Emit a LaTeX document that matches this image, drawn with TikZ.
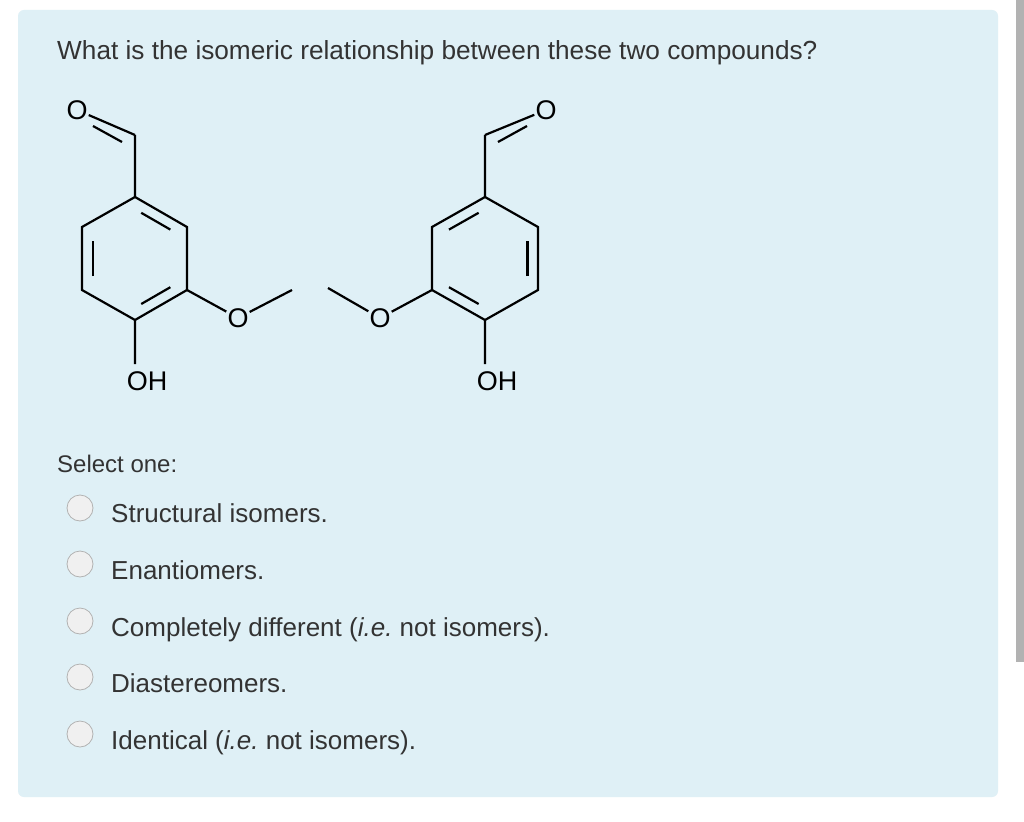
\documentclass[tikz,border=0pt]{standalone}
\usepackage{fontspec}
\setmainfont{Liberation Sans}
\usetikzlibrary{calc}
\definecolor{panel}{HTML}{DFF0F6}
\definecolor{txt}{HTML}{333333}
\begin{document}
\begin{tikzpicture}[x=1pt,y=-1pt,
  bond/.style={line width=2.2pt,black},
  atomlbl/.style={font=\fontsize{27}{29}\selectfont,inner sep=1pt},
  opt/.style={font=\fontsize{26}{28}\selectfont,text=txt,anchor=base west,inner sep=0pt},
  radio/.style={circle,minimum size=26pt,inner sep=0pt,draw=gray!60,line width=0.8pt,fill=gray!12}]
\useasboundingbox[fill=white] (0,0) rectangle (1024,821);
\fill[panel,rounded corners=6pt] (18,10) rectangle (998,797);
\fill[gray!60] (1016,0) rectangle (1024,662);
\node[font=\fontsize{26.2}{28}\selectfont,text=txt,anchor=base west,inner sep=0pt] (title) at (57,60) {What is the isomeric relationship between these two compounds?};
% left molecule
\coordinate (La) at (135,197);
\coordinate (Lb) at (187,227);
\coordinate (Lc) at (187,290);
\coordinate (Ld) at (135,320);
\coordinate (Le) at (82,290);
\coordinate (Lf) at (82,227);
\coordinate (Lm) at (135,258);
\coordinate (Lcc) at (135,135);
\coordinate (Loh) at (135,364);
\coordinate (Lme) at (292,290);
\node[atomlbl] (LOa) at (77,110) {O};
\node[atomlbl] (LOb) at (238,318) {O};
\node[atomlbl] (LOH) at (147,381) {OH};
\draw[bond] (La)--(Lb)--(Lc)--(Ld)--(Le)--(Lf)--cycle;
\draw[bond] ($($(La)!.15!(Lb)$)!.2!(Lm)$)--($($(La)!.85!(Lb)$)!.2!(Lm)$);
\draw[bond] ($($(Lc)!.15!(Ld)$)!.2!(Lm)$)--($($(Lc)!.85!(Ld)$)!.2!(Lm)$);
\draw[bond] ($($(Le)!.15!(Lf)$)!.2!(Lm)$)--($($(Le)!.85!(Lf)$)!.2!(Lm)$);
\draw[bond] (La)--(Lcc) (Ld)--(Loh) (Lc)--(LOb) (LOb)--(Lme);
\draw[bond] (Lcc)--(LOa);
\draw[bond] (93,126)--(122,142);
% right molecule
\coordinate (Ra) at (485,197);
\coordinate (Rb) at (432,227);
\coordinate (Rc) at (432,290);
\coordinate (Rd) at (485,320);
\coordinate (Re) at (538,290);
\coordinate (Rf) at (538,227);
\coordinate (Rm) at (485,258);
\coordinate (Rcc) at (485,135);
\coordinate (Roh) at (485,364);
\coordinate (Rme) at (328,288);
\node[atomlbl] (ROa) at (546,110) {O};
\node[atomlbl] (ROb) at (380,318) {O};
\node[atomlbl] (ROH) at (497,381) {OH};
\draw[bond] (Ra)--(Rb)--(Rc)--(Rd)--(Re)--(Rf)--cycle;
\draw[bond] ($($(Ra)!.15!(Rb)$)!.2!(Rm)$)--($($(Ra)!.85!(Rb)$)!.2!(Rm)$);
\draw[bond] ($($(Rc)!.15!(Rd)$)!.2!(Rm)$)--($($(Rc)!.85!(Rd)$)!.2!(Rm)$);
\draw[bond] ($($(Re)!.15!(Rf)$)!.2!(Rm)$)--($($(Re)!.85!(Rf)$)!.2!(Rm)$);
\draw[bond] (Ra)--(Rcc) (Rd)--(Roh) (Rc)--(ROb) (ROb)--(Rme);
\draw[bond] (Rcc)--(ROa);
\draw[bond] (498,142)--(527,126);
% options
\node[opt,font=\fontsize{24}{26}\selectfont] (sel) at (57,472) {Select one:};
\node[radio] (r1) at (80,508) {};
\node[radio] (r2) at (80,564) {};
\node[radio] (r3) at (80,621) {};
\node[radio] (r4) at (80,677) {};
\node[radio] (r5) at (80,734) {};
\node[opt] (o1) at (111,522) {Structural isomers.};
\node[opt] (o2) at (111,579) {Enantiomers.};
\node[opt] (o3) at (111,636) {Completely different (\textit{i.e.}\ not isomers).};
\node[opt] (o4) at (111,692) {Diastereomers.};
\node[opt] (o5) at (111,749) {Identical (\textit{i.e.}\ not isomers).};
\end{tikzpicture}
\end{document}
